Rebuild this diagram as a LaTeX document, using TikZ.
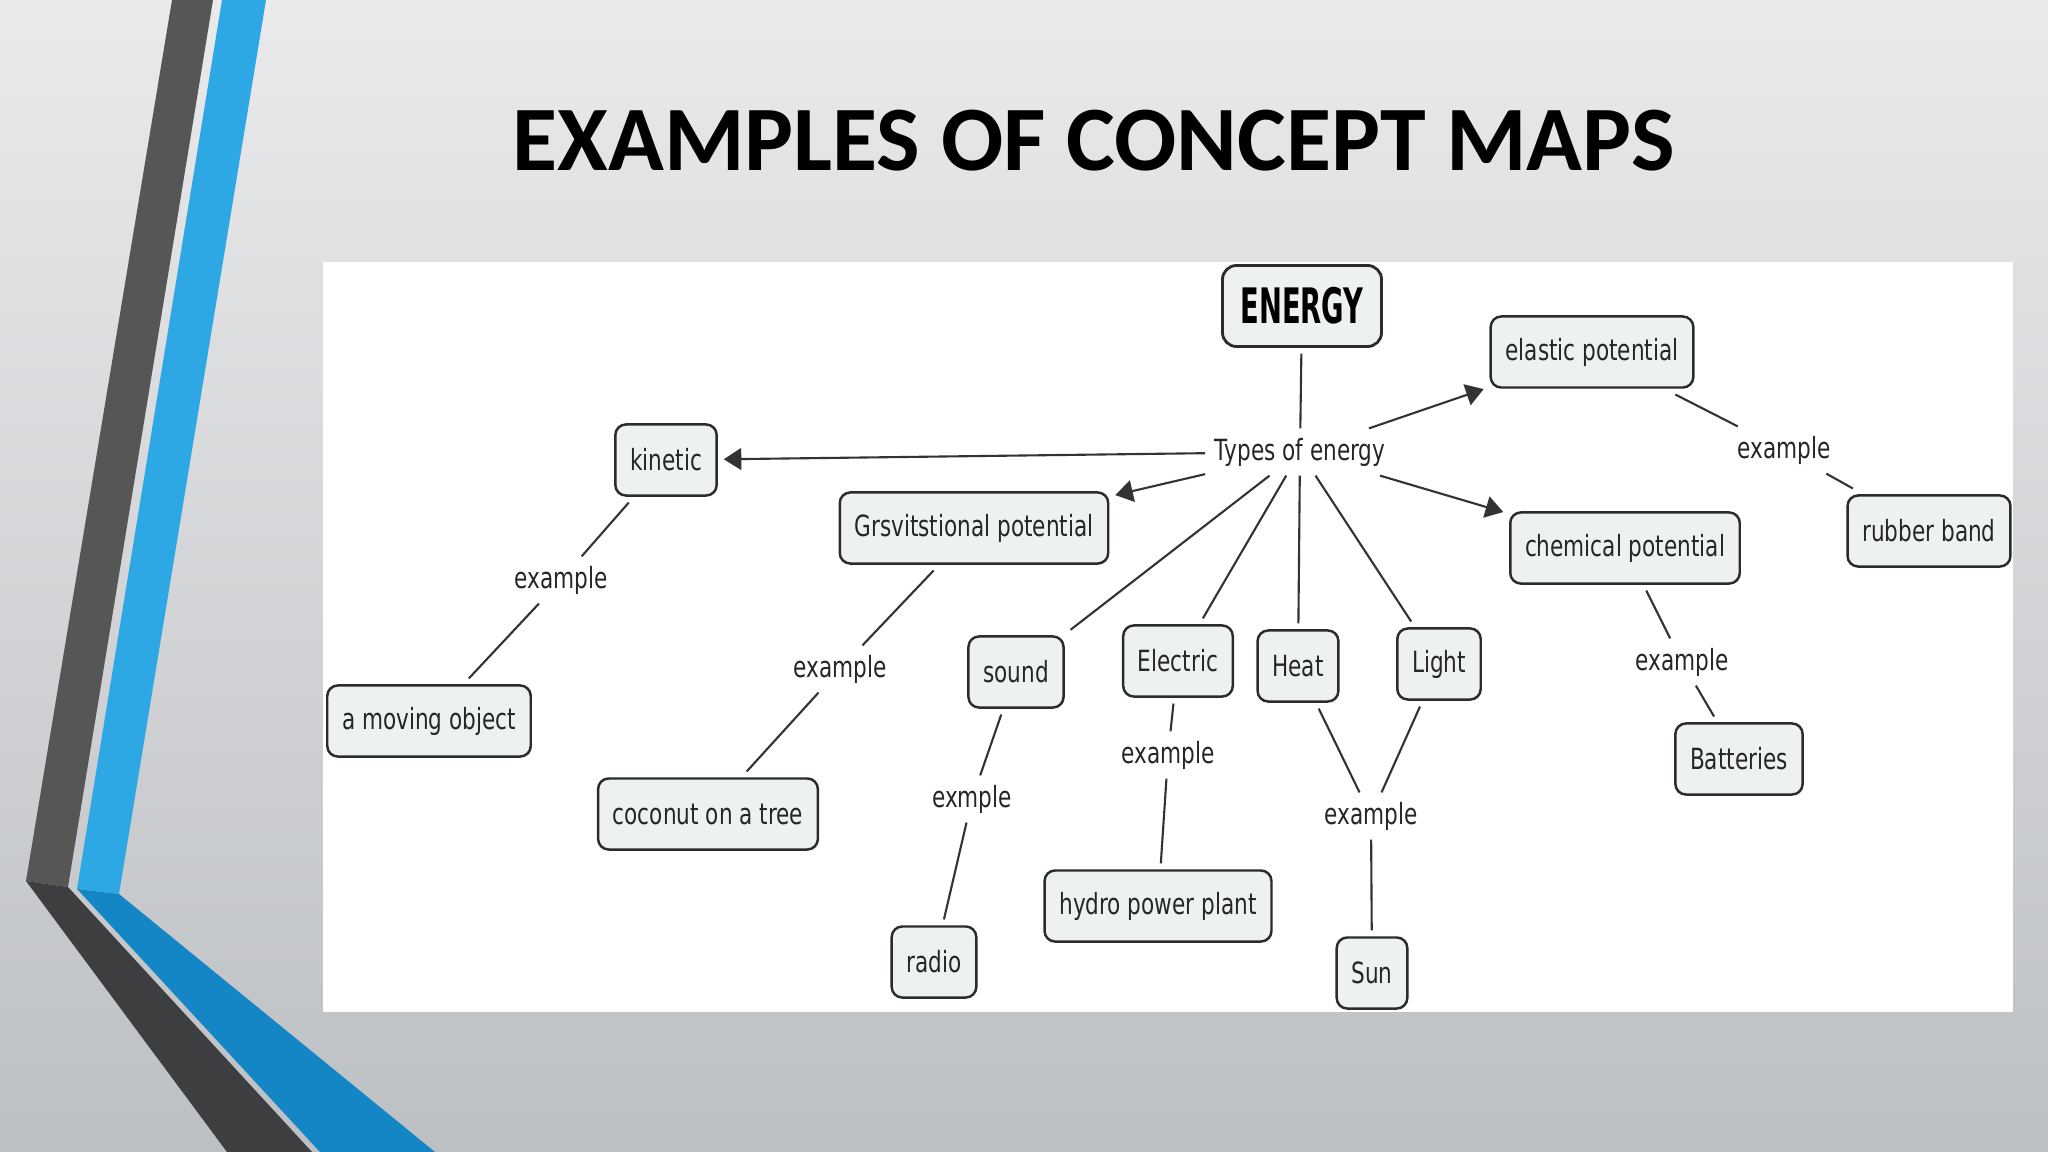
\documentclass[tikz,border=0pt]{standalone}
\usepackage{fontspec}
\usepackage{tikz}
\usetikzlibrary{arrows.meta}
\newfontfamily\mapfont{DejaVu Sans}[FakeStretch=0.74]
\newfontfamily\energyfont{DejaVu Sans}[FakeStretch=0.56]
\newfontfamily\slidefont{Carlito}
\definecolor{slidetop}{HTML}{EAEAEC}
\definecolor{slidemid}{HTML}{DCDDDF}
\definecolor{slidebottom}{HTML}{BDC0C3}
\definecolor{bandgray}{HTML}{565656}
\definecolor{bandgraydark}{HTML}{3D3E40}
\definecolor{bandblue}{HTML}{2DA8E4}
\definecolor{bandbluedark}{HTML}{1586C5}
\definecolor{boxfill}{HTML}{EEF1F2}
\definecolor{boxline}{HTML}{2B2B2B}
\definecolor{linkline}{HTML}{333333}
\definecolor{inkmap}{HTML}{262626}
\newcommand{\conceptbox}[3]{%
  \node[draw=boxline, line width=0.7pt, rounded corners=3pt, fill=boxfill,
        inner xsep=4.2pt, minimum height=0.71cm, outer sep=2pt,
        text=inkmap] (#1) at (#2) {#3};}
\newcommand{\linkword}[3]{%
  \node[inner sep=2.5pt, text=inkmap] (#1) at (#2) {#3};}

\begin{document}
\begin{tikzpicture}[x=0.01cm, y=-0.01cm,
    font=\mapfont\fontsize{8.3}{10}\selectfont,
    link/.style={draw=linkline, line width=0.6pt},
    push/.style={link, -{Triangle[length=5pt, width=6.2pt]}}]
  % slide background
  \useasboundingbox (0,0) rectangle (2048,1152);
  \shade[top color=slidetop, middle color=slidemid, bottom color=slidebottom]
    (0,0) rectangle (2048,1152);
  \fill[bandgray] (172,0) -- (213,0) -- (68,887) -- (26,881) -- cycle;
  \fill[bandblue] (222,0) -- (266,0) -- (119,894) -- (77,889) -- cycle;
  \fill[bandgraydark] (26,881) -- (68,887) -- (312,1152) -- (227,1152) -- cycle;
  \fill[bandbluedark] (77,889) -- (119,894) -- (435,1152) -- (320,1152) -- cycle;
  \fill[white] (323,262) rectangle (2013,1012);
  \node[anchor=base, font=\slidefont\bfseries\fontsize{26.2}{30}\selectfont]
    (title) at (1094,171) {EXAMPLES OF CONCEPT MAPS};

  % concepts
  \node[draw=boxline, line width=0.8pt, rounded corners=4pt, fill=boxfill,
        minimum width=1.59cm, minimum height=0.81cm, outer sep=2pt,
        font=\energyfont\bfseries\fontsize{13.9}{16}\selectfont]
    (energy) at (1302,306) {ENERGY};
  \linkword{types}{1300,452}{Types of energy}
  \conceptbox{kinetic}{666,460}{kinetic}
  \conceptbox{grav}{974,528}{Grsvitstional potential}
  \conceptbox{elastic}{1592,352}{elastic potential}
  \conceptbox{chemical}{1625,548}{chemical potential}
  \conceptbox{rubber}{1929,531}{rubber band}
  \conceptbox{batteries}{1739,759}{Batteries}
  \conceptbox{moving}{429,721}{a moving object}
  \conceptbox{coconut}{708,814}{coconut on a tree}
  \conceptbox{sound}{1016,672}{sound}
  \conceptbox{radio}{934,962}{radio}
  \conceptbox{electric}{1178,661}{Electric}
  \conceptbox{hydro}{1158,906}{hydro power plant}
  \conceptbox{heat}{1298,666}{Heat}
  \conceptbox{light}{1439,664}{Light}
  \conceptbox{sun}{1372,973}{Sun}

  % linking words
  \linkword{exelastic}{1784,450}{example}
  \linkword{exchemical}{1682,662}{example}
  \linkword{exkinetic}{561,580}{example}
  \linkword{exgrav}{840,669}{example}
  \linkword{exsound}{972,799}{exmple}
  \linkword{exelectric}{1168,755}{example}
  \linkword{exheat}{1371,816}{example}

  % connectors
  \draw[link] (energy) -- (types);
  \draw[push] (types) -- (kinetic);
  \draw[push] (types) -- (grav);
  \draw[push] (types) -- (elastic);
  \draw[push] (types) -- (chemical);
  \draw[link] (types) -- (sound);
  \draw[link] (types) -- (electric);
  \draw[link] (types) -- (heat);
  \draw[link] (types) -- (light);
  \draw[link] (elastic) -- (exelastic);
  \draw[link] (exelastic) -- (rubber);
  \draw[link] (chemical) -- (exchemical);
  \draw[link] (exchemical) -- (batteries);
  \draw[link] (kinetic) -- (exkinetic);
  \draw[link] (exkinetic) -- (moving);
  \draw[link] (grav) -- (exgrav);
  \draw[link] (exgrav) -- (coconut);
  \draw[link] (sound) -- (exsound);
  \draw[link] (exsound) -- (radio);
  \draw[link] (electric) -- (exelectric);
  \draw[link] (exelectric) -- (hydro);
  \draw[link] (heat) -- (exheat);
  \draw[link] (light) -- (exheat);
  \draw[link] (exheat) -- (sun);
\end{tikzpicture}
\end{document}
